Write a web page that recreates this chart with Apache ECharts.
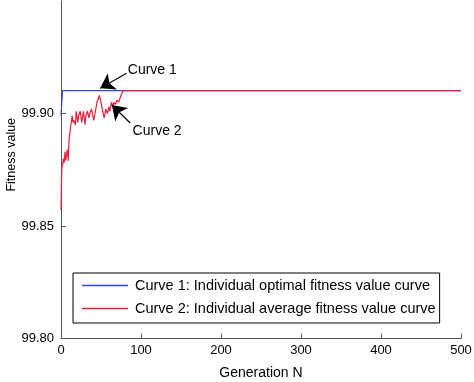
<!DOCTYPE html>
<html><head><meta charset="utf-8">
<script src="https://cdn.jsdelivr.net/npm/echarts@6/dist/echarts.min.js"></script>
<style>html,body{margin:0;padding:0;background:#fff}#c{width:474px;height:382px}</style>
</head><body><div id="c"></div>
<script>
// Data
var seriesNames = ['Curve 1: Individual optimal fitness value curve', 'Curve 2: Individual average fitness value curve'];
var curve1Gen = [0, 1, 2, 500];
var curve1Val = [99.899, 99.899, 99.9102, 99.9102];
var curve2Gen = [0, 1, 2, 3, 4, 5, 6, 7, 8, 9, 10, 12, 14, 15, 16, 18, 19, 21, 22, 24, 26, 28, 30, 31, 33, 35, 36, 38, 41, 43, 45, 48, 50, 51, 54, 56, 58, 60, 61, 63, 65, 66, 68, 70, 72, 74, 76, 78, 500];
var curve2Val = [99.857, 99.876, 99.877, 99.880, 99.878, 99.883, 99.879, 99.882, 99.884, 99.879, 99.888, 99.894, 99.899, 99.896, 99.897, 99.895, 99.901, 99.896, 99.899, 99.901, 99.896, 99.901, 99.895, 99.899, 99.901, 99.898, 99.900, 99.902, 99.897, 99.901, 99.905, 99.908, 99.905, 99.903, 99.898, 99.902, 99.900, 99.903, 99.901, 99.905, 99.903, 99.905, 99.904, 99.906, 99.905, 99.907, 99.909, 99.9102, 99.9102];
var xTicks = [0, 100, 200, 300, 400, 500];
var yTicks = [99.80, 99.85, 99.90, 99.95];
// annotations in data coords
var annotLabels = ['Curve 1', 'Curve 2'];
var annotText = [[83.5, 99.9193], [89.5, 99.8922]];
var annotTail = [[82, 99.9179], [86.5, 99.8958]];
var annotTip = [[49, 99.9112], [63.5, 99.9038]];

function zip(a, b) { return a.map(function (v, i) { return [v, b[i]]; }); }
var FONT = 'Liberation Sans, Arial, sans-serif';
var chart = echarts.init(document.getElementById('c'), null, {renderer: 'canvas'});
var markLines = annotTail.map(function (t, i) {
  return [{coord: t, symbol: 'none'}, {coord: annotTip[i], symbol: 'arrow'}];
});
var markPts = annotText.map(function (p, i) {
  return {coord: p, value: annotLabels[i]};
});
chart.setOption({
  animation: false,
  grid: {left: 61, right: 13, top: 1, bottom: 43.5, outerBoundsMode: 'none', containLabel: false},
  legend: {
    orient: 'vertical', left: 73, top: 273,
    data: seriesNames,
    icon: 'rect', itemWidth: 46, itemHeight: 1.5, itemGap: 8,
    padding: [5, 4, 7, 9],
    borderColor: '#000', borderWidth: 1,
    textStyle: {fontFamily: FONT, fontSize: 14.5, color: '#000', padding: [0, 0, 0, 2]}
  },
  xAxis: {
    type: 'value', min: xTicks[0], max: xTicks[xTicks.length - 1], interval: 100,
    name: 'Generation N', nameLocation: 'middle', nameGap: 28, nameMoveOverlap: false,
    nameTextStyle: {fontFamily: FONT, fontSize: 14, color: '#000'},
    axisLine: {show: true, onZero: false, lineStyle: {color: '#555', width: 1}},
    axisTick: {show: true, inside: true, length: 5, lineStyle: {color: '#555'}},
    axisLabel: {fontFamily: FONT, fontSize: 13, color: '#000', margin: 5},
    splitLine: {show: false}
  },
  yAxis: {
    type: 'value', min: yTicks[0], max: yTicks[yTicks.length - 1], interval: 0.05,
    name: 'Fitness value', nameLocation: 'middle', nameGap: 43, nameRotate: 90, nameMoveOverlap: false,
    nameTextStyle: {fontFamily: FONT, fontSize: 12.5, color: '#000', padding: [0, 0, 0, 30]},
    axisLine: {show: true, onZero: false, lineStyle: {color: '#555', width: 1}},
    axisTick: {show: true, inside: true, length: 5, lineStyle: {color: '#555'}},
    axisLabel: {fontFamily: FONT, fontSize: 13, color: '#000', margin: 7, showMaxLabel: false,
      formatter: function (v) { return v.toFixed(2); }},
    splitLine: {show: false}
  },
  series: [
    {
      name: seriesNames[0], type: 'line', data: zip(curve1Gen, curve1Val),
      symbol: 'none', lineStyle: {color: '#3347d8', width: 1.2}, itemStyle: {color: '#3347d8'}
    },
    {
      name: seriesNames[1], type: 'line', data: zip(curve2Gen, curve2Val),
      symbol: 'none', lineStyle: {color: '#ec1c3a', width: 1.2}, itemStyle: {color: '#ec1c3a'},
      markLine: {
        silent: true, symbolSize: 14, precision: 4,
        lineStyle: {color: '#000', width: 1.2, type: 'solid'},
        itemStyle: {color: '#000'},
        label: {show: false},
        data: markLines
      },
      markPoint: {
        symbol: 'circle', symbolSize: 0,
        label: {show: true, position: 'right', distance: 0, color: '#000', fontFamily: FONT, fontSize: 14,
          formatter: function (p) { return p.value; }},
        data: markPts
      }
    }
  ]
});
</script></body></html>
